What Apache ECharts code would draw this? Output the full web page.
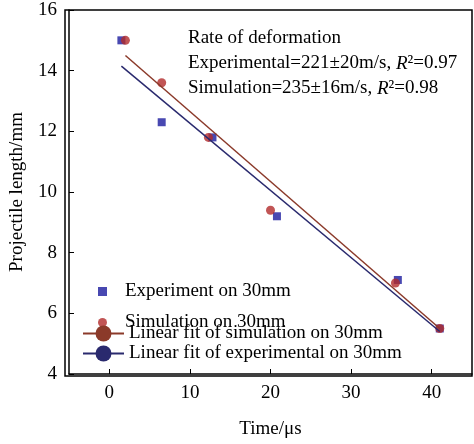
<!DOCTYPE html>
<html><head><meta charset="utf-8">
<script src="https://cdn.jsdelivr.net/npm/echarts@6/dist/echarts.min.js"></script>
<style>html,body{margin:0;background:#fff}#c{width:474px;height:444px}</style>
</head><body><div id="c"></div>
<script>
var expX = [1.5, 6.5, 12.8, 20.8, 35.8, 41];
var expY = [15, 12.3, 11.8, 9.2, 7.1, 5.5];
var simX = [2, 6.5, 12.3, 20, 35.5, 41];
var simY = [15, 13.6, 11.8, 9.4, 7.0, 5.5];
var simFit = [[2, 14.5], [41, 5.5]];
var expFit = [[1.5, 14.15], [41, 5.4]];
var xTicks = [0, 10, 20, 30, 40];

var font = '"Liberation Serif", "DejaVu Serif", serif';
var fs = 19;
function pairs(xs, ys) { return xs.map(function (x, i) { return [x, ys[i]]; }); }
var chart = echarts.init(document.getElementById('c'));
chart.setOption({
  animation: false,
  textStyle: { fontFamily: font, color: '#000' },
  grid: { left: 65, right: 2, top: 10, bottom: 68 },
  xAxis: {
    type: 'value', min: -5, max: 45,
    name: 'Time/μs', nameLocation: 'middle', nameGap: 46,
    nameTextStyle: { fontFamily: font, fontSize: fs, color: '#000' },
    axisLine: { onZero: false, lineStyle: { color: '#000', width: 1.5 } },
    axisTick: { inside: true, length: 5, customValues: xTicks, lineStyle: { color: '#000' } },
    axisLabel: { customValues: xTicks, fontFamily: font, fontSize: fs, color: '#000', margin: 10 },
    splitLine: { show: false }
  },
  yAxis: {
    type: 'value', min: 4, max: 16, interval: 2,
    name: 'Projectile length/mm', nameLocation: 'middle', nameGap: 42,
    nameTextStyle: { fontFamily: font, fontSize: fs, color: '#000' },
    axisLine: { onZero: false, lineStyle: { color: '#000', width: 1.5 } },
    axisTick: { inside: true, length: 5, lineStyle: { color: '#000' } },
    axisLabel: { fontFamily: font, fontSize: fs, color: '#000', margin: 12 },
    splitLine: { show: false }
  },
  legend: [{
    left: 93, top: 277, orient: 'vertical', itemGap: 12, itemWidth: 9, itemHeight: 9,
    textStyle: { fontFamily: font, fontSize: fs, color: '#000', padding: [0, 0, 0, 13] },
    data: ['Experiment on 30mm', 'Simulation on 30mm']
  }, {
    left: 77, top: 319, orient: 'vertical', itemGap: 1, itemWidth: 41, itemHeight: 20,
    textStyle: { fontFamily: font, fontSize: fs, color: '#000' },
    data: ['Linear fit of simulation on 30mm', 'Linear fit of experimental on 30mm']
  }],
  graphic: [
    { type: 'rect', shape: { x: 65, y: 10, width: 407, height: 366 }, style: { fill: 'none', stroke: '#000', lineWidth: 1.5 } },
    { type: 'text', left: 188, top: 26, style: { text: 'Rate of deformation\nExperimental=221±20m/s, {i|R}²=0.97\nSimulation=235±16m/s, {i|R}²=0.98',
      font: fs + 'px ' + font, lineHeight: 25, fill: '#000', rich: { i: { fontStyle: 'italic', font: 'italic ' + fs + 'px ' + font } } } }
  ],
  series: [
    { name: 'Linear fit of simulation on 30mm', type: 'line', data: simFit, symbol: 'none', lineStyle: { color: '#8b3a2a', width: 1.5 }, itemStyle: { color: '#8b3a2a' } },
    { name: 'Linear fit of experimental on 30mm', type: 'line', data: expFit, symbol: 'none', lineStyle: { color: '#2a2a6e', width: 1.5 }, itemStyle: { color: '#2a2a6e' } },
    { name: 'Experiment on 30mm', type: 'scatter', data: pairs(expX, expY), symbol: 'rect', symbolSize: 8, itemStyle: { color: '#1a1a9e' } },
    { name: 'Simulation on 30mm', type: 'scatter', data: pairs(simX, simY), symbol: 'circle', symbolSize: 9, itemStyle: { color: '#b22a2a' } }
  ]
});
</script></body></html>
